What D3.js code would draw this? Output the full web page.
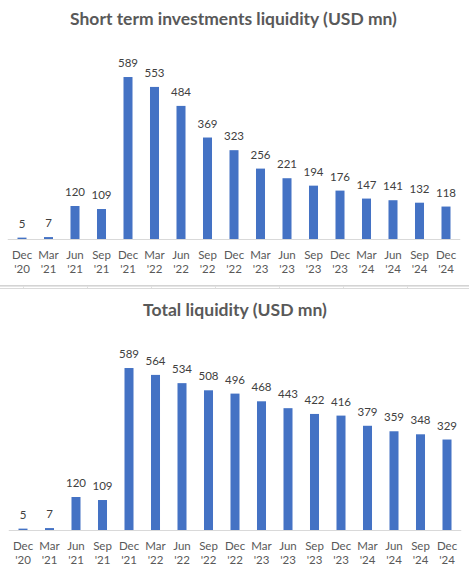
<!DOCTYPE html>
<html>
<head>
<meta charset="utf-8">
<script src="https://cdn.jsdelivr.net/npm/d3@7"></script>
<style>
  html, body { margin: 0; padding: 0; background: #fff; }
  svg { display: block; }
</style>
</head>
<body>
<svg id="chart" width="469" height="575"></svg>
<script>
const categories = ["Dec '20","Mar '21","Jun '21","Sep '21","Dec '21","Mar '22","Jun '22","Sep '22","Dec '22","Mar '23","Jun '23","Sep '23","Dec '23","Mar '24","Jun '24","Sep '24","Dec '24"];
const shortTermValues = [5, 7, 120, 109, 589, 553, 484, 369, 323, 256, 221, 194, 176, 147, 141, 132, 118];
const totalValues = [5, 7, 120, 109, 589, 564, 534, 508, 496, 468, 443, 422, 416, 379, 359, 348, 329];
const titles = ["Short term investments liquidity (USD mn)", "Total liquidity (USD mn)"];
const yMax = 700;

const svg = d3.select("#chart");
const FONT = "Lato, 'Liberation Sans', Arial, sans-serif";
const BAR = "#4472C4";
const TXT = "#404040";
const AX = "#595959";

function drawChart(cfg) {
  const g = svg.append("g");
  const x = d3.scaleBand().domain(categories).range([cfg.x0, cfg.x1]).paddingInner(0.66).paddingOuter(0.33);
  const y = d3.scaleLinear().domain([0, yMax]).range([cfg.base, cfg.base - 192.5]);

  // title
  const t = g.append("text")
    .attr("x", cfg.titleX).attr("y", cfg.titleY)
    .attr("text-anchor", "middle")
    .attr("font-family", FONT).attr("font-weight", "bold")
    .attr("font-size", 18).attr("fill", AX)
    .text(cfg.title);
  const w = t.node().getComputedTextLength();
  t.attr("font-size", 18 * cfg.titleW / w);

  // bars
  g.selectAll("rect.bar").data(cfg.values).enter().append("rect")
    .attr("class", "bar")
    .attr("x", (d, i) => x(categories[i]))
    .attr("width", x.bandwidth())
    .attr("y", d => y(d))
    .attr("height", d => y(0) - y(d))
    .attr("fill", BAR);

  // value labels
  g.selectAll("text.val").data(cfg.values).enter().append("text")
    .attr("class", "val")
    .attr("x", (d, i) => x(categories[i]) + x.bandwidth() / 2)
    .attr("y", d => y(d) - 10)
    .attr("text-anchor", "middle")
    .attr("font-family", FONT).attr("font-size", 11.5).attr("fill", TXT)
    .text(d => d);

  // axis
  const axis = d3.axisBottom(x).tickSize(0).tickPadding(0);
  const ag = g.append("g").attr("transform", `translate(0,${cfg.base})`).call(axis);
  ag.select(".domain").attr("stroke", "#D9D9D9").attr("stroke-width", 1)
    .attr("d", `M${cfg.x0 - 1},0.5H${cfg.x1 + 1}`);
  ag.selectAll(".tick text").each(function(d) {
    const parts = d.split(" ");
    const el = d3.select(this);
    el.text(null).attr("y", 0).attr("dy", null)
      .attr("font-family", FONT).attr("font-size", 11.5).attr("fill", AX);
    el.append("tspan").attr("x", 0).attr("y", 20).text(parts[0]);
    el.append("tspan").attr("x", 0).attr("y", 34).text(parts[1]);
  });
}

drawChart({ title: titles[0], values: shortTermValues, x0: 8.75, x1: 459.25, base: 239, titleX: 233.5, titleY: 25, titleW: 327 });
drawChart({ title: titles[1], values: totalValues, x0: 9.75, x1: 460.25, base: 530, titleX: 235, titleY: 316, titleW: 184 });

// separator (sheet grid)
svg.append("rect").attr("x", 0).attr("y", 285).attr("width", 469).attr("height", 1.6).attr("fill", "#D4D4D4");
svg.append("rect").attr("x", 0).attr("y", 288).attr("width", 469).attr("height", 1).attr("fill", "#DADADA");
const gridCols = [23, 87, 151, 215, 279, 343, 407];
svg.selectAll("rect.gc").data(gridCols).enter().append("rect")
  .attr("class", "gc").attr("x", d => d).attr("y", 286).attr("width", 1).attr("height", 2).attr("fill", "#E0E0E0");
</script>
</body>
</html>
